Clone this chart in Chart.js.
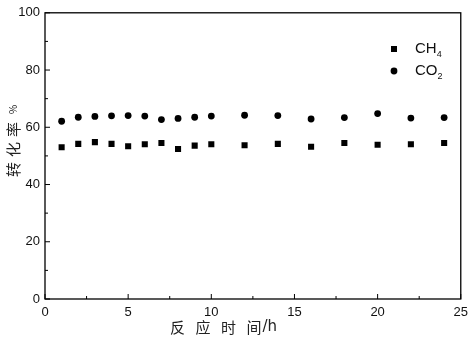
<!DOCTYPE html>
<html>
<head>
<meta charset="utf-8">
<script src="https://cdn.jsdelivr.net/npm/chart.js@4/dist/chart.umd.min.js"></script>
<style>
  html, body { margin: 0; padding: 0; background: #fff; }
  #wrap { width: 474px; height: 340px; }
</style>
</head>
<body>
<div id="wrap"><canvas id="c" width="474" height="340"></canvas></div>
<script>
  // reaction time (h)
  const hours = [1, 2, 3, 4, 5, 6, 7, 8, 9, 10, 12, 14, 16, 18, 20, 22, 24];
  // conversion (%)
  const ch4 = [53.0, 54.2, 54.8, 54.2, 53.4, 54.1, 54.5, 52.4, 53.6, 54.1, 53.7, 54.2, 53.2, 54.5, 53.9, 54.1, 54.5];
  const co2 = [62.1, 63.5, 63.8, 64.0, 64.1, 63.9, 62.7, 63.1, 63.5, 63.9, 64.2, 64.1, 62.9, 63.4, 64.8, 63.2, 63.4];
  const xMajor = [0, 5, 10, 15, 20, 25];
  const xMinor = [2.5, 7.5, 12.5, 17.5, 22.5];
  const yMajor = [0, 20, 40, 60, 80, 100];
  const yMinor = [10, 30, 50, 70, 90];

  const tickFont = { family: 'Liberation Sans, Arial, sans-serif', size: 13 };
  const cjkFont = '"Noto Sans CJK SC", sans-serif';

  function toPoints(ys) {
    return hours.map((h, i) => ({ x: h, y: ys[i] }));
  }

  // frame, inward ticks, titles and legend
  const framePlugin = {
    id: 'frame',
    afterDraw(chart) {
      const ctx = chart.ctx;
      const a = chart.chartArea;
      const xs = chart.scales.x;
      const ys = chart.scales.y;
      ctx.save();
      ctx.strokeStyle = '#000';
      ctx.lineWidth = 1.3;
      ctx.strokeRect(a.left, a.top, a.right - a.left, a.bottom - a.top);

      ctx.lineWidth = 1;
      ctx.beginPath();
      xMajor.forEach(v => {
        const px = xs.getPixelForValue(v);
        ctx.moveTo(px, a.bottom); ctx.lineTo(px, a.bottom - 5);
      });
      xMinor.forEach(v => {
        const px = xs.getPixelForValue(v);
        ctx.moveTo(px, a.bottom); ctx.lineTo(px, a.bottom - 3);
      });
      yMajor.forEach(v => {
        const py = ys.getPixelForValue(v);
        ctx.moveTo(a.left, py); ctx.lineTo(a.left + 5, py);
      });
      yMinor.forEach(v => {
        const py = ys.getPixelForValue(v);
        ctx.moveTo(a.left, py); ctx.lineTo(a.left + 3, py);
      });
      ctx.stroke();

      // x title
      ctx.fillStyle = '#222';
      ctx.textBaseline = 'middle';
      ctx.textAlign = 'left';
      ctx.font = '15px ' + cjkFont;
      ctx.letterSpacing = '10.5px';
      ctx.fillText('反应时间', 170, 327);
      const tw = ctx.measureText('反应时间').width - 10.5;
      ctx.letterSpacing = '0px';
      ctx.font = '15px "DejaVu Sans", sans-serif';
      ctx.fillText('/h', 170 + tw + 1, 327);

      // y title
      ctx.save();
      ctx.translate(13, 0);
      ctx.rotate(-Math.PI / 2);
      ctx.font = '15px ' + cjkFont;
      ctx.letterSpacing = '5px';
      ctx.fillText('转化率', -177, 0);
      ctx.letterSpacing = '0px';
      ctx.font = '10px ' + cjkFont;
      ctx.fillText('%', -114, 0);
      ctx.restore();

      // legend
      const items = [
        { sub: '4', base: 'CH', style: 'rect', y: 49 },
        { sub: '2', base: 'CO', style: 'circle', y: 71 }
      ];
      items.forEach(it => {
        ctx.fillStyle = '#000';
        if (it.style === 'rect') {
          ctx.fillRect(391, it.y - 3, 6, 6);
        } else {
          ctx.beginPath();
          ctx.arc(394, it.y, 3.4, 0, Math.PI * 2);
          ctx.fill();
        }
        ctx.fillStyle = '#111';
        ctx.font = '15px Liberation Sans, Arial, sans-serif';
        ctx.textAlign = 'left';
        ctx.fillText(it.base, 415, it.y);
        const w = ctx.measureText(it.base).width;
        ctx.font = '9px Liberation Sans, Arial, sans-serif';
        ctx.fillText(it.sub, 415 + w, it.y + 6);
      });
      ctx.restore();
    }
  };

  new Chart(document.getElementById('c'), {
    type: 'scatter',
    data: {
      datasets: [
        {
          label: 'CH4',
          data: toPoints(ch4),
          pointStyle: 'rect',
          pointRadius: 4.3,
          backgroundColor: '#000',
          borderColor: '#000',
          borderWidth: 0
        },
        {
          label: 'CO2',
          data: toPoints(co2),
          pointStyle: 'circle',
          pointRadius: 3.4,
          backgroundColor: '#000',
          borderColor: '#000',
          borderWidth: 0
        }
      ]
    },
    options: {
      responsive: false,
      animation: false,
      layout: { padding: { top: 9, right: 13, left: 0, bottom: 0 } },
      plugins: {
        legend: { display: false },
        tooltip: { enabled: false }
      },
      scales: {
        x: {
          type: 'linear',
          min: 0,
          max: 25,
          afterFit(scale) { scale.height = 41; },
          grid: { display: false, drawTicks: false },
          border: { display: false },
          ticks: { stepSize: 5, color: '#111', font: tickFont, padding: 6, maxRotation: 0 }
        },
        y: {
          min: 0,
          max: 100,
          afterFit(scale) { scale.width = 45; },
          grid: { display: false, drawTicks: false },
          border: { display: false },
          ticks: { stepSize: 20, color: '#111', font: tickFont, padding: 5 }
        }
      }
    },
    plugins: [framePlugin]
  });
</script>
</body>
</html>
